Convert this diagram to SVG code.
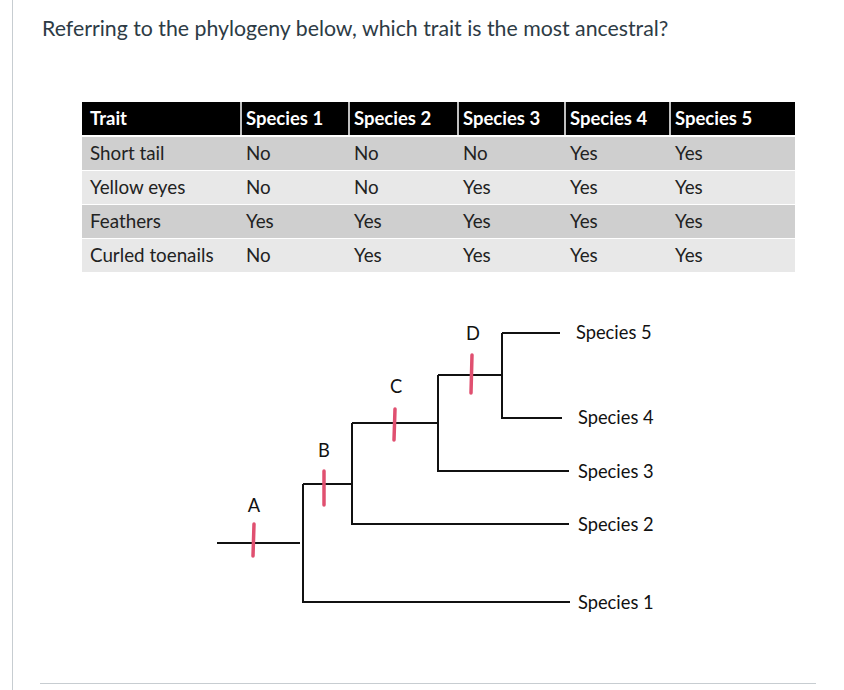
<svg xmlns="http://www.w3.org/2000/svg" width="844" height="690" viewBox="0 0 844 690">
<style>
.t{font-family:Lato,"Liberation Sans",sans-serif;fill:#2d3b45}
.c{font-family:Lato,"Liberation Sans",sans-serif;font-size:18.8px;fill:#222}
.h{font-family:Lato,"Liberation Sans",sans-serif;font-size:18.5px;font-weight:bold;fill:#fff}
.l{font-family:Lato,"Liberation Sans",sans-serif;font-size:18.3px;fill:#111}
.br{stroke:#111;stroke-width:2;fill:none}
.tk{stroke:#e05070;stroke-width:3.5;stroke-linecap:round}
</style>
<rect width="844" height="690" fill="#fff"/>
<line x1="12.5" y1="0" x2="12.5" y2="690" stroke="#c7cdd1"/>
<line x1="40" y1="683.5" x2="816" y2="683.5" stroke="#c7cdd1"/>
<text class="t" x="42" y="36" font-size="21.3">Referring to the phylogeny below, which trait is the most ancestral?</text>
<g id="table">
<rect x="82" y="102" width="713" height="33" fill="#000"/>
<rect x="82" y="137" width="713" height="33" fill="#cfcfcf"/>
<rect x="82" y="171" width="713" height="33" fill="#e8e8e8"/>
<rect x="82" y="205" width="713" height="33" fill="#cfcfcf"/>
<rect x="82" y="239" width="713" height="33" fill="#e8e8e8"/>
<g stroke="#fff" stroke-width="1.5"><line x1="241" y1="102" x2="241" y2="135"/><line x1="349" y1="102" x2="349" y2="135"/><line x1="458" y1="102" x2="458" y2="135"/><line x1="565" y1="102" x2="565" y2="135"/><line x1="670" y1="102" x2="670" y2="135"/></g>
<text class="h" x="90" y="125">Trait</text><text class="h" x="246" y="125">Species 1</text><text class="h" x="354" y="125">Species 2</text><text class="h" x="463" y="125">Species 3</text><text class="h" x="570" y="125">Species 4</text><text class="h" x="675" y="125">Species 5</text>
<text class="c" x="90" y="160">Short tail</text><text class="c" x="246" y="160">No</text><text class="c" x="354" y="160">No</text><text class="c" x="463" y="160">No</text><text class="c" x="570" y="160">Yes</text><text class="c" x="675" y="160">Yes</text>
<text class="c" x="90" y="194">Yellow eyes</text><text class="c" x="246" y="194">No</text><text class="c" x="354" y="194">No</text><text class="c" x="463" y="194">Yes</text><text class="c" x="570" y="194">Yes</text><text class="c" x="675" y="194">Yes</text>
<text class="c" x="90" y="228">Feathers</text><text class="c" x="246" y="228">Yes</text><text class="c" x="354" y="228">Yes</text><text class="c" x="463" y="228">Yes</text><text class="c" x="570" y="228">Yes</text><text class="c" x="675" y="228">Yes</text>
<text class="c" x="90" y="262">Curled toenails</text><text class="c" x="246" y="262">No</text><text class="c" x="354" y="262">Yes</text><text class="c" x="463" y="262">Yes</text><text class="c" x="570" y="262">Yes</text><text class="c" x="675" y="262">Yes</text>
</g>
<g id="connectors">
<path class="br" d="M217 543H300M303 484V602H570M303 484H352M352 423V524H569M352 423H438M438 375V471H569M438 375H502M502 333V418H562M502 333H560"/>
</g>
<g id="ticks">
<line class="tk" x1="254" y1="524" x2="253" y2="556"/>
<line class="tk" x1="324" y1="471" x2="324" y2="505"/>
<line class="tk" x1="395" y1="409" x2="394" y2="440"/>
<line class="tk" x1="472" y1="355" x2="471" y2="393"/>
</g>
<g id="labels">
<text class="l" x="254" y="512" text-anchor="middle" font-size="16">A</text>
<text class="l" x="324" y="457" text-anchor="middle" font-size="16">B</text>
<text class="l" x="396" y="393" text-anchor="middle" font-size="16">C</text>
<text class="l" x="473" y="340" text-anchor="middle" font-size="16">D</text>
<text class="l" x="576" y="339">Species 5</text>
<text class="l" x="578" y="424">Species 4</text>
<text class="l" x="578" y="478">Species 3</text>
<text class="l" x="578" y="531">Species 2</text>
<text class="l" x="578" y="609">Species 1</text>
</g>
</svg>
